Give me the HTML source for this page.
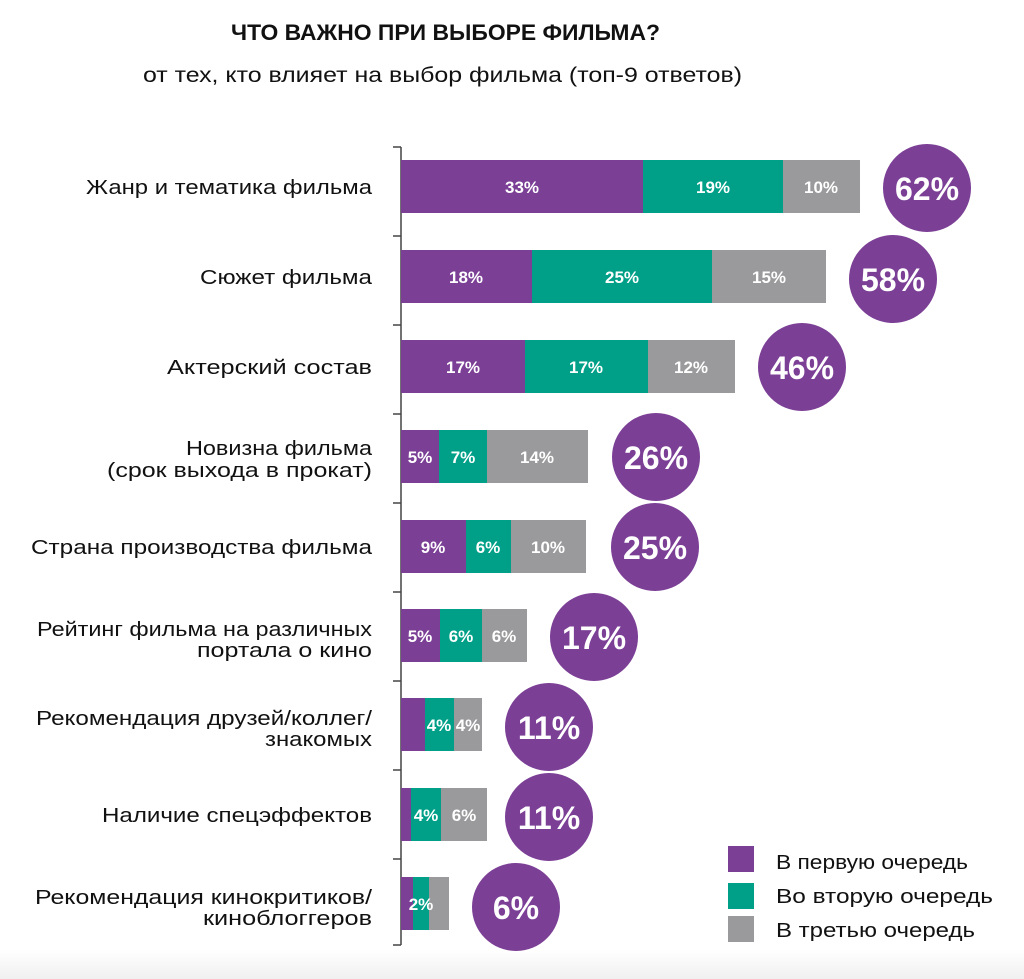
<!DOCTYPE html>
<html><head><meta charset="utf-8"><style>body{margin:0;background:#fff}svg{display:block}</style></head>
<body>
<svg width="1024" height="979" viewBox="0 0 1024 979" xmlns="http://www.w3.org/2000/svg" font-family="Liberation Sans, DejaVu Sans, sans-serif">
<defs><linearGradient id="bg" x1="0" y1="0" x2="0" y2="1"><stop offset="0" stop-color="#fff"/><stop offset="1" stop-color="#f0f0f0"/></linearGradient></defs>
<rect x="0" y="950" width="1024" height="29" fill="url(#bg)"/>
<text x="231" y="40" font-size="22" font-weight="bold" textLength="429" lengthAdjust="spacingAndGlyphs" fill="#111">ЧТО ВАЖНО ПРИ ВЫБОРЕ ФИЛЬМА?</text>
<text x="143" y="82" font-size="21" textLength="599" lengthAdjust="spacingAndGlyphs" fill="#111">от тех, кто влияет на выбор фильма (топ-9 ответов)</text>
<g stroke="#444" stroke-width="1.5">
<line x1="401" y1="147" x2="401" y2="945"/>
<line x1="393" y1="147" x2="401" y2="147"/><line x1="393" y1="236" x2="401" y2="236"/><line x1="393" y1="325" x2="401" y2="325"/>
<line x1="393" y1="414" x2="401" y2="414"/><line x1="393" y1="503" x2="401" y2="503"/><line x1="393" y1="592" x2="401" y2="592"/>
<line x1="393" y1="681" x2="401" y2="681"/><line x1="393" y1="770" x2="401" y2="770"/><line x1="393" y1="859" x2="401" y2="859"/>
<line x1="393" y1="945" x2="401" y2="945"/>
</g>
<g font-size="20" fill="#111">
<text x="86" y="194" textLength="286" lengthAdjust="spacingAndGlyphs">Жанр и тематика фильма</text>
<text x="200" y="284" textLength="172" lengthAdjust="spacingAndGlyphs">Сюжет фильма</text>
<text x="167" y="374" textLength="205" lengthAdjust="spacingAndGlyphs">Актерский состав</text>
<text x="186" y="455" textLength="186" lengthAdjust="spacingAndGlyphs">Новизна фильма</text><text x="107" y="477" textLength="265" lengthAdjust="spacingAndGlyphs">(срок выхода в прокат)</text>
<text x="31" y="554" textLength="341" lengthAdjust="spacingAndGlyphs">Страна производства фильма</text>
<text x="37" y="636" textLength="335" lengthAdjust="spacingAndGlyphs">Рейтинг фильма на различных</text><text x="197" y="657" textLength="175" lengthAdjust="spacingAndGlyphs">портала о кино</text>
<text x="36" y="725" textLength="336" lengthAdjust="spacingAndGlyphs">Рекомендация друзей/коллег/</text><text x="265" y="746" textLength="107" lengthAdjust="spacingAndGlyphs">знакомых</text>
<text x="102" y="822" textLength="270" lengthAdjust="spacingAndGlyphs">Наличие спецэффектов</text>
<text x="35" y="904" textLength="337" lengthAdjust="spacingAndGlyphs">Рекомендация кинокритиков/</text><text x="203" y="925" textLength="169" lengthAdjust="spacingAndGlyphs">киноблоггеров</text>
</g>
<g>
<rect x="401" y="160" width="242" height="53" fill="#7b3f96"/><rect x="643" y="160" width="140" height="53" fill="#00a088"/><rect x="783" y="160" width="77" height="53" fill="#9a9a9c"/>
<rect x="401" y="250" width="131" height="53" fill="#7b3f96"/><rect x="532" y="250" width="180" height="53" fill="#00a088"/><rect x="712" y="250" width="114" height="53" fill="#9a9a9c"/>
<rect x="401" y="340" width="124" height="53" fill="#7b3f96"/><rect x="525" y="340" width="123" height="53" fill="#00a088"/><rect x="648" y="340" width="87" height="53" fill="#9a9a9c"/>
<rect x="401" y="430" width="38" height="53" fill="#7b3f96"/><rect x="439" y="430" width="48" height="53" fill="#00a088"/><rect x="487" y="430" width="101" height="53" fill="#9a9a9c"/>
<rect x="401" y="520" width="65" height="53" fill="#7b3f96"/><rect x="466" y="520" width="45" height="53" fill="#00a088"/><rect x="511" y="520" width="75" height="53" fill="#9a9a9c"/>
<rect x="401" y="609" width="39" height="53" fill="#7b3f96"/><rect x="440" y="609" width="42" height="53" fill="#00a088"/><rect x="482" y="609" width="45" height="53" fill="#9a9a9c"/>
<rect x="401" y="698" width="24" height="53" fill="#7b3f96"/><rect x="425" y="698" width="29" height="53" fill="#00a088"/><rect x="454" y="698" width="28" height="53" fill="#9a9a9c"/>
<rect x="401" y="788" width="10" height="53" fill="#7b3f96"/><rect x="411" y="788" width="30" height="53" fill="#00a088"/><rect x="441" y="788" width="46" height="53" fill="#9a9a9c"/>
<rect x="401" y="877" width="12" height="53" fill="#7b3f96"/><rect x="413" y="877" width="16" height="53" fill="#00a088"/><rect x="429" y="877" width="20" height="53" fill="#9a9a9c"/>
</g>
<g font-size="17" font-weight="bold" fill="#fff" text-anchor="middle">
<text x="522" y="193">33%</text><text x="713" y="193">19%</text><text x="821" y="193">10%</text>
<text x="466" y="283">18%</text><text x="622" y="283">25%</text><text x="769" y="283">15%</text>
<text x="463" y="373">17%</text><text x="586" y="373">17%</text><text x="691" y="373">12%</text>
<text x="420" y="463">5%</text><text x="463" y="463">7%</text><text x="537" y="463">14%</text>
<text x="433" y="553">9%</text><text x="488" y="553">6%</text><text x="548" y="553">10%</text>
<text x="420" y="642">5%</text><text x="461" y="642">6%</text><text x="504" y="642">6%</text>
<text x="439" y="731">4%</text><text x="468" y="731">4%</text>
<text x="426" y="821">4%</text><text x="464" y="821">6%</text>
<text x="421" y="910">2%</text>
</g>
<g fill="#7b3f96">
<circle cx="927" cy="188" r="44"/><circle cx="893" cy="279" r="44"/><circle cx="802" cy="367" r="44"/>
<circle cx="656" cy="457" r="44"/><circle cx="655" cy="547" r="44"/><circle cx="594" cy="637" r="44"/>
<circle cx="549" cy="727" r="44"/><circle cx="549" cy="817" r="44"/><circle cx="516" cy="907" r="44"/>
</g>
<g font-size="32" font-weight="bold" fill="#fff" text-anchor="middle">
<text x="927" y="200">62%</text><text x="893" y="291">58%</text><text x="802" y="379">46%</text>
<text x="656" y="469">26%</text><text x="655" y="559">25%</text><text x="594" y="649">17%</text>
<text x="549" y="739">11%</text><text x="549" y="829">11%</text><text x="516" y="919">6%</text>
</g>
<rect x="728" y="846" width="26" height="26" fill="#7b3f96"/>
<rect x="728" y="883" width="26" height="26" fill="#00a088"/>
<rect x="728" y="916" width="26" height="26" fill="#9a9a9c"/>
<g font-size="20" fill="#111">
<text x="776" y="869" textLength="192" lengthAdjust="spacingAndGlyphs">В первую очередь</text>
<text x="776" y="903" textLength="217" lengthAdjust="spacingAndGlyphs">Во вторую очередь</text>
<text x="776" y="937" textLength="199" lengthAdjust="spacingAndGlyphs">В третью очередь</text>
</g>
</svg>
</body></html>
